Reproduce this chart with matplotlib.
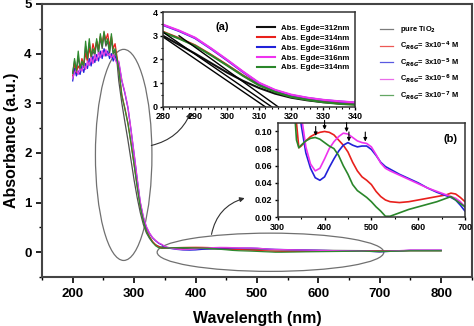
import numpy as np
import matplotlib
matplotlib.use("Agg")
import matplotlib.pyplot as plt
from matplotlib.patches import Ellipse
from matplotlib.lines import Line2D
from matplotlib.ticker import MultipleLocator, FormatStrFormatter

plt.rcParams["font.family"] = ["Liberation Sans", "DejaVu Sans"]
plt.rcParams["font.weight"] = "bold"
plt.rcParams["axes.labelweight"] = "bold"

# wavelength grids (nm)
wl_uv = [200, 203, 206, 209, 212, 215, 218, 221, 224, 227, 230, 233, 236,
         239, 242, 245, 248, 251, 254, 257, 260, 263, 266, 269, 272]
wl_edge = [275, 280, 285, 290, 295, 300, 305, 310, 315, 320, 325, 330, 335, 340]
wl_vis = [345, 350, 360, 370, 380, 390, 400, 410, 420, 430, 440, 450, 460, 470,
          480, 490, 500, 510, 520, 530, 540, 560, 580, 600, 620, 640, 660, 670,
          680, 690, 700, 750, 800]

# absorbance, pure TiO2
pure_uv = [3.62, 3.85, 3.6, 3.95, 3.68, 3.82, 3.72, 4.15, 3.86, 4.22, 3.92, 4.05, 3.96,
           4.25, 4.0, 4.32, 4.1, 4.38, 4.15, 4.25, 4.0, 4.3, 3.98, 4.05, 3.85]
pure_edge = [3.45, 3.0, 2.62, 2.25, 1.85, 1.45, 1.1, 0.8, 0.56, 0.39, 0.28, 0.2, 0.15, 0.12]
pure_vis = [0.1, 0.09, 0.085, 0.08, 0.076, 0.072, 0.07, 0.068, 0.066, 0.064, 0.062, 0.06,
            0.058, 0.056, 0.054, 0.052, 0.05, 0.049, 0.048, 0.047, 0.046, 0.044, 0.042,
            0.04, 0.038, 0.036, 0.034, 0.033, 0.032, 0.031, 0.03, 0.03, 0.03]

# C_R6G = 3x10^-4 M
red_uv = [3.55, 3.8, 3.62, 3.75, 3.68, 3.9, 3.78, 4.0, 3.85, 4.1, 3.95, 4.2, 4.05,
          4.25, 4.1, 4.35, 4.2, 4.42, 4.28, 4.4, 4.15, 4.35, 4.1, 4.2, 3.95]
red_edge = [3.7, 3.17, 2.9, 2.6, 2.2, 1.77, 1.33, 0.93, 0.65, 0.44, 0.32, 0.22, 0.15, 0.11]
red_vis = [0.081, 0.083, 0.089, 0.094, 0.097, 0.099, 0.1, 0.099, 0.096, 0.09, 0.084,
           0.076, 0.064, 0.054, 0.047, 0.043, 0.038, 0.03, 0.024, 0.02, 0.018, 0.017,
           0.018, 0.02, 0.022, 0.024, 0.026, 0.028, 0.027, 0.023, 0.018, 0.035, 0.035]

# C_R6G = 3x10^-5 M
blue_uv = [3.45, 3.7, 3.55, 3.65, 3.58, 3.75, 3.62, 3.8, 3.7, 3.9, 3.75, 3.95, 3.82,
           3.98, 3.85, 4.05, 3.9, 4.1, 3.95, 4.05, 3.9, 4.0, 3.85, 3.95, 3.85]
blue_edge = [3.82, 3.45, 3.2, 2.9, 2.45, 1.97, 1.47, 1.0, 0.7, 0.5, 0.38, 0.29, 0.23, 0.18]
blue_vis = [0.15, 0.108, 0.075, 0.057, 0.046, 0.043, 0.047, 0.058, 0.068, 0.077, 0.084,
            0.087, 0.084, 0.082, 0.083, 0.083, 0.079, 0.072, 0.064, 0.059, 0.056, 0.05,
            0.045, 0.04, 0.034, 0.029, 0.025, 0.023, 0.02, 0.014, 0.007, 0.04, 0.04]

# C_R6G = 3x10^-6 M
mag_uv = [3.5, 3.62, 3.68, 3.58, 3.72, 3.65, 3.8, 3.68, 3.85, 3.76, 3.92, 3.8, 3.98,
          3.86, 4.02, 3.92, 4.06, 3.95, 4.08, 3.96, 4.0, 3.92, 3.98, 3.88, 3.8]
mag_edge = [3.85, 3.47, 3.22, 2.92, 2.47, 1.99, 1.49, 1.02, 0.72, 0.52, 0.39, 0.3, 0.24, 0.19]
mag_vis = [0.16, 0.12, 0.082, 0.062, 0.054, 0.057, 0.068, 0.08, 0.088, 0.094, 0.098,
           0.097, 0.093, 0.089, 0.087, 0.086, 0.082, 0.073, 0.063, 0.057, 0.054, 0.049,
           0.044, 0.039, 0.034, 0.03, 0.026, 0.024, 0.022, 0.018, 0.012, 0.045, 0.045]

# C_R6G = 3x10^-7 M
green_uv = [3.6, 3.9, 3.65, 4.05, 3.7, 3.85, 3.75, 4.25, 3.9, 4.3, 3.95, 4.1, 4.0,
            4.3, 4.05, 4.4, 4.15, 4.45, 4.2, 4.3, 4.05, 4.4, 4.0, 4.1, 3.9]
green_edge = [3.68, 3.15, 2.88, 2.58, 2.18, 1.75, 1.31, 0.91, 0.63, 0.42, 0.3, 0.2, 0.13, 0.09]
green_vis = [0.081, 0.084, 0.089, 0.092, 0.093, 0.091, 0.087, 0.083, 0.08, 0.072, 0.06,
             0.05, 0.038, 0.031, 0.027, 0.023, 0.018, 0.012, 0.007, 0.001, 0.001, 0.005,
             0.009, 0.012, 0.015, 0.018, 0.022, 0.024, 0.02, 0.016, 0.012, 0.03, 0.03]

main_labels = ["pure TiO$_2$",
               "C$_{R6G}$= 3x10$^{-4}$ M",
               "C$_{R6G}$= 3x10$^{-5}$ M",
               "C$_{R6G}$= 3x10$^{-6}$ M",
               "C$_{R6G}$= 3x10$^{-7}$ M"]
edge_labels = ["Abs. Egde=312nm", "Abs. Egde=314nm", "Abs. Egde=316nm",
               "Abs. Egde=316nm", "Abs. Egde=314nm"]

# tangent lines used to read the absorption edge: start point and x-intercept
tangent_x0 = [280, 280, 285]
tangent_y0 = [2.95, 3.15, 3.0]
tangent_edge = [312, 314, 316]

# peak positions marked in the visible range, and the curve each belongs to
peak_wl = [381, 400, 447, 452, 487]
peak_series = ["green", "red", "mag", "blue", "mag"]

wl = np.array(wl_uv + wl_edge + wl_vis, dtype=float)
series = {
    "pure": np.array(pure_uv + pure_edge + pure_vis),
    "red": np.array(red_uv + red_edge + red_vis),
    "blue": np.array(blue_uv + blue_edge + blue_vis),
    "mag": np.array(mag_uv + mag_edge + mag_vis),
    "green": np.array(green_uv + green_edge + green_vis),
}
colors = {"pure": "#505050", "red": "#e8201c", "blue": "#2222d8",
          "mag": "#e23be2", "green": "#2f8a2f"}
inset_colors = {"pure": "#101010", "red": "#e8201c", "blue": "#2222d8",
                "mag": "#ee33ee", "green": "#2a862a"}
order = ["pure", "red", "blue", "mag", "green"]

fig = plt.figure(figsize=(4.74, 3.26), dpi=100)
ax = fig.add_axes([0.0886, 0.150, 0.907, 0.838])

for key in order:
    ax.plot(wl, series[key], color=colors[key], lw=0.9)

ax.set_xlim(150, 850)
ax.set_ylim(-0.5, 5)
ax.set_xticks([200, 300, 400, 500, 600, 700, 800])
ax.set_yticks([0, 1, 2, 3, 4, 5])
ax.xaxis.set_minor_locator(MultipleLocator(50))
ax.yaxis.set_minor_locator(MultipleLocator(0.5))
ax.tick_params(which="major", direction="out", length=4, width=1.2, labelsize=9.5,
               top=False, right=False)
ax.tick_params(which="minor", direction="out", length=2.5, width=1, top=False, right=False)
for sp in ax.spines.values():
    sp.set_linewidth(1.5)
    sp.set_color("#444444")
ax.set_xlabel("Wavelength (nm)", fontsize=11.5, labelpad=8)
ax.set_ylabel("Absorbance (a.u.)", fontsize=11.5, labelpad=4)

handles = [Line2D([], [], color=colors[k], lw=0.9, alpha=0.75) for k in order]
ax.legend(handles, main_labels, loc="upper right", bbox_to_anchor=(0.985, 0.95),
          frameon=False, handlelength=1.7, handletextpad=0.9,
          labelspacing=0.55, prop={"weight": "bold", "size": 5.4})

# ellipses around the regions shown enlarged
ax.add_patch(Ellipse((283, 1.96), 92, 4.25, fill=False, ec="#707070", lw=0.9))
ax.add_patch(Ellipse((522, 0.0), 369, 0.77, fill=False, ec="#707070", lw=0.9))
ax.annotate("", xy=(392, 2.81), xytext=(328, 2.15),
            arrowprops=dict(arrowstyle="-|>", color="#303030", lw=0.8,
                            mutation_scale=7, connectionstyle="arc3,rad=0.25",
                            shrinkA=0, shrinkB=0))
ax.annotate("", xy=(480, 1.09), xytext=(426, 0.36),
            arrowprops=dict(arrowstyle="-|>", color="#303030", lw=0.8,
                            mutation_scale=7, connectionstyle="arc3,rad=-0.3",
                            shrinkA=0, shrinkB=0))

# inset (a): absorption edge
axa = fig.add_axes([0.344, 0.672, 0.405, 0.291])
for key, lab in zip(order, edge_labels):
    axa.plot(wl, series[key], color=inset_colors[key], lw=1.5, label=lab)
for x0, y0, xe in zip(tangent_x0, tangent_y0, tangent_edge):
    axa.plot([x0, xe], [y0, 0], color="black", lw=1.0)
axa.set_xlim(280, 340)
axa.set_ylim(0, 4)
axa.set_xticks(range(280, 341, 10))
axa.set_yticks([0, 1, 2, 3, 4])
axa.xaxis.set_minor_locator(MultipleLocator(2))
axa.yaxis.set_minor_locator(MultipleLocator(0.5))
axa.tick_params(which="major", direction="out", length=2.5, width=1, labelsize=6.5, pad=1.5)
axa.tick_params(which="minor", direction="out", length=1.5, width=0.8)
for sp in axa.spines.values():
    sp.set_linewidth(1.1)
    sp.set_color("#333333")
axa.text(0.31, 0.84, "(a)", transform=axa.transAxes, fontsize=8, ha="center", va="center")
axa.legend(loc="upper right", bbox_to_anchor=(1.0, 0.93), frameon=False,
           handlelength=2.2, handletextpad=0.8, labelspacing=0.3, borderaxespad=0.3,
           prop={"weight": "bold", "size": 5.7})

# inset (b): visible range
axb = fig.add_axes([0.586, 0.334, 0.395, 0.289])
for key in ["red", "blue", "mag", "green"]:
    axb.plot(wl, series[key], color=inset_colors[key], lw=1.2)
for pw, key in zip(peak_wl, peak_series):
    py = np.interp(pw, wl, series[key])
    axb.annotate("", xy=(pw, py + 0.002), xytext=(pw, py + 0.013),
                 arrowprops=dict(arrowstyle="-|>", color="black", lw=0.8,
                                 mutation_scale=5, shrinkA=0, shrinkB=0))
axb.set_xlim(300, 700)
axb.set_ylim(0, 0.11)
axb.set_xticks([300, 400, 500, 600, 700])
axb.set_yticks([0.0, 0.02, 0.04, 0.06, 0.08, 0.10])
axb.yaxis.set_major_formatter(FormatStrFormatter("%.2f"))
axb.xaxis.set_minor_locator(MultipleLocator(50))
axb.tick_params(which="major", direction="out", length=2.5, width=1, labelsize=6.5, pad=1.5)
axb.tick_params(which="minor", direction="out", length=1.5, width=0.8)
for sp in axb.spines.values():
    sp.set_linewidth(1.1)
    sp.set_color("#333333")
axb.text(0.92, 0.83, "(b)", transform=axb.transAxes, fontsize=8, ha="center", va="center")

fig.savefig("out.png", dpi=100)
